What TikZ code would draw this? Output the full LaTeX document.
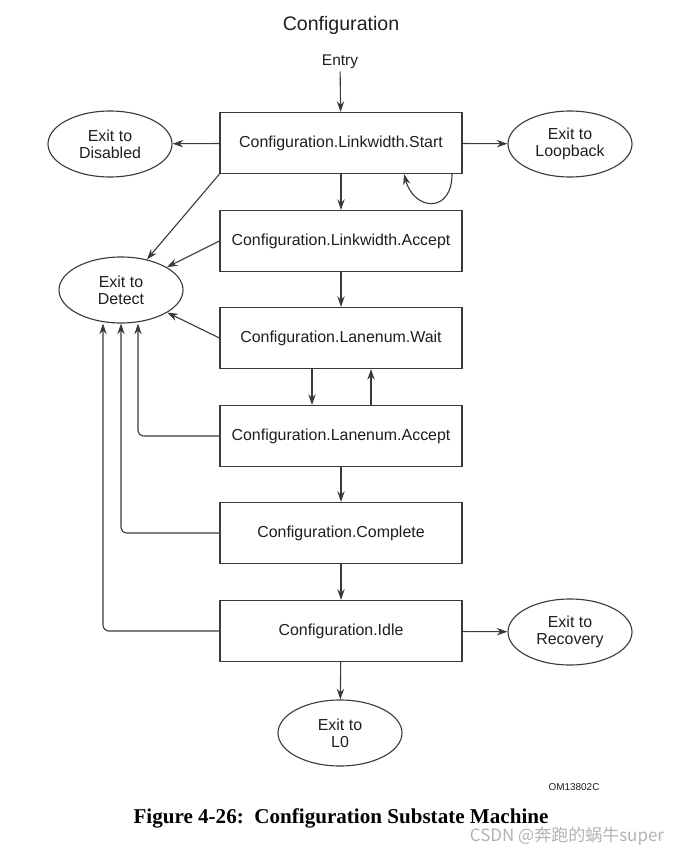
\documentclass[tikz,border=0pt]{standalone}
\usepackage{fontspec}
\setmainfont{Liberation Sans}
\newfontfamily\capfont{Liberation Serif}
\newfontfamily\cjkfont{Noto Sans CJK SC}
\usetikzlibrary{arrows.meta, shapes.geometric}
\definecolor{ink}{HTML}{3A3A3A}
\definecolor{textink}{HTML}{1E1E1E}
\tikzset{
	substate/.style={shape=rectangle, draw=ink, line width=0.95pt, minimum width=7.26cm, minimum height=1.83cm, text=textink, font=\fontsize{13.6}{15}\selectfont},
	exitstate/.style={shape=ellipse, draw=ink, line width=0.95pt, minimum width=3.72cm, minimum height=1.98cm, inner sep=0pt, align=center, text=textink, font=\fontsize{13.6}{14.6}\selectfont},
	wire/.style={draw=ink, line width=0.95pt, -{Stealth[length=3.2mm, width=2.2mm]}},
}

\begin{document}
\begin{tikzpicture}[x=0.03cm, y=-0.03cm]
	\useasboundingbox (0, 0) rectangle (678, 848);
	% Paths, nodes and wires:
	\node[text=textink, font=\fontsize{16.7}{18}\selectfont] (title) at (341, 25) {Configuration};
	\node[text=textink, font=\fontsize{13.2}{15}\selectfont, inner sep=2pt] (entry) at (340, 62) {Entry};
	\node[substate] (start) at (341, 143) {Configuration.Linkwidth.Start};
	\node[substate] (lwaccept) at (341, 241) {Configuration.Linkwidth.Accept};
	\node[substate] (wait) at (341, 338) {Configuration.Lanenum.Wait};
	\node[substate] (lnaccept) at (341, 436) {Configuration.Lanenum.Accept};
	\node[substate] (complete) at (341, 533) {Configuration.Complete};
	\node[substate] (idle) at (341, 631) {Configuration.Idle};
	\node[exitstate] (disabled) at (110, 144) {Exit to\\Disabled};
	\node[exitstate] (loopback) at (570, 144) {Exit to\\Loopback};
	\node[exitstate] (detect) at (121, 290) {Exit to\\Detect};
	\node[exitstate] (recovery) at (570, 632) {Exit to\\Recovery};
	\node[exitstate] (lzero) at (340, 733) {Exit to\\L0};
	\node[text=textink, font=\fontsize{8.5}{10}\selectfont] (omcode) at (574, 787) {OM13802C};
	\node[text=black, font=\capfont\bfseries\fontsize{18}{20}\selectfont] (caption) at (341, 818) {Figure 4-26:\ \ Configuration Substate Machine};
	\node[text=black!30, font=\cjkfont\fontsize{14.5}{16}\selectfont] (mark) at (567, 836) {CSDN @奔跑的蜗牛super};
	\draw[wire] (entry) -- (start);
	\draw[wire] (start) -- (disabled);
	\draw[wire] (start) -- (loopback);
	\draw[wire] (start) -- (lwaccept);
	\draw[wire] ([xshift=3.33cm]start.south) .. controls +(0cm, -1.2cm) and +(0.3cm, -1.1cm) .. ([xshift=1.89cm]start.south);
	\draw[wire] (start.south west) -- (detect);
	\draw[wire] (lwaccept.west) -- (detect);
	\draw[wire] (lwaccept) -- (wait);
	\draw[wire] (wait.west) -- (detect);
	\draw[wire] ([xshift=-0.87cm]wait.south) -- ([xshift=-0.87cm]lnaccept.north);
	\draw[wire] ([xshift=0.9cm]lnaccept.north) -- ([xshift=0.9cm]wait.south);
	\draw[wire, rounded corners=5pt] (lnaccept.west) -| ([xshift=0.51cm]detect.south);
	\draw[wire] (lnaccept) -- (complete);
	\draw[wire, rounded corners=5pt] (complete.west) -| (detect.south);
	\draw[wire] (complete) -- (idle);
	\draw[wire, rounded corners=5pt] (idle.west) -| ([xshift=-0.54cm]detect.south);
	\draw[wire] (idle) -- (recovery);
	\draw[wire] (idle) -- (lzero);
\end{tikzpicture}
\end{document}
